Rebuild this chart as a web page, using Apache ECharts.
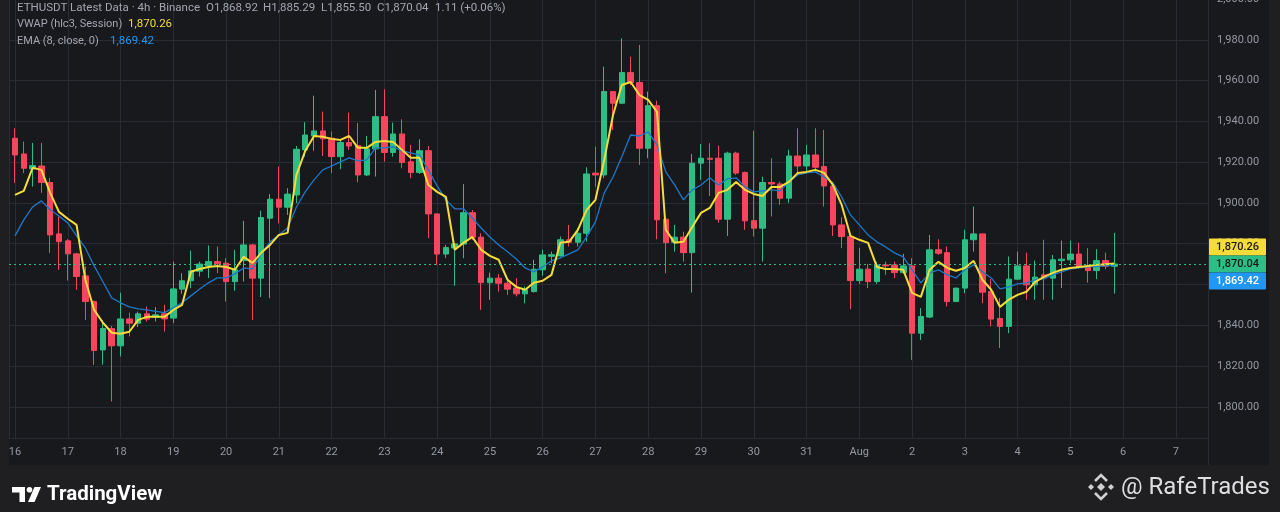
<!DOCTYPE html>
<html><head><meta charset="utf-8">
<script src="https://cdn.jsdelivr.net/npm/echarts@6.0.0/dist/echarts.min.js"></script>
<style>html,body{margin:0;padding:0;background:#1f1f21;}#c{width:1280px;height:512px;}</style>
</head><body><div id="c"></div>
<script>
// ---- data (4h candles, ETHUSDT, from Jul 16 00:00) ----
const opens  = [1931.7,1924.0,1916.7,1918.1,1910.0,1884.8,1881.4,1875.0,1864.2,1851.6,1827.9,1838.4,1829.9,1843.1,1841.0,1845.6,1844.0,1845.6,1843.5,1857.7,1861.8,1866.5,1869.1,1871.2,1870.4,1861.4,1871.7,1879.4,1863.1,1892.5,1901.8,1897.9,1903.9,1926.0,1932.8,1935.3,1931.7,1922.7,1929.6,1928.1,1913.7,1926.5,1942.3,1924.7,1933.8,1920.2,1914.9,1925.6,1894.6,1874.9,1877.9,1879.8,1895.2,1883.2,1860.9,1863.1,1860.6,1858.2,1855.4,1856.5,1867.2,1873.8,1874.0,1881.9,1880.7,1885.1,1914.6,1913.7,1954.6,1948.9,1963.9,1959.0,1926.8,1947.7,1892.0,1880.7,1883.2,1875.6,1919.5,1921.9,1921.9,1892.0,1924.4,1914.9,1891.3,1887.6,1910.0,1909.3,1902.3,1923.0,1918.1,1923.5,1917.8,1908.3,1889.2,1883.5,1861.9,1867.5,1861.4,1869.6,1869.6,1865.8,1869.1,1836.1,1844.0,1877.0,1875.6,1851.6,1858.2,1881.9,1884.8,1856.5,1843.3,1839.4,1862.6,1869.1,1859.8,1864.7,1863.1,1871.7,1872.1,1874.9,1868.8,1866.8,1871.7,1868.92];
const highs  = [1936.6,1930.1,1929.4,1929.4,1912.3,1893.3,1882.2,1875.5,1868.8,1852.1,1842.6,1839.7,1855.9,1846.2,1846.7,1849.2,1848.9,1850.0,1871.2,1865.5,1876.6,1871.2,1879.1,1878.6,1872.9,1877.0,1891.2,1879.8,1896.2,1904.3,1917.8,1907.2,1927.9,1939.6,1952.6,1944.8,1935.0,1930.9,1944.3,1939.1,1932.8,1955.4,1955.7,1939.4,1941.0,1928.4,1931.2,1927.9,1894.8,1879.4,1880.2,1909.2,1896.5,1885.1,1865.8,1865.2,1863.1,1863.1,1859.0,1872.1,1877.0,1876.1,1883.5,1889.2,1887.6,1917.5,1927.6,1966.8,1954.8,1980.7,1971.7,1977.5,1954.6,1950.1,1893.3,1889.2,1885.9,1924.0,1928.9,1929.3,1928.1,1925.1,1925.1,1915.4,1935.4,1912.9,1921.9,1910.4,1926.0,1936.6,1928.4,1936.6,1935.8,1910.4,1893.0,1883.8,1877.8,1870.1,1871.1,1871.2,1871.2,1875.0,1872.9,1848.4,1884.3,1882.2,1878.6,1858.4,1886.8,1898.2,1885.0,1862.6,1853.3,1873.7,1876.1,1875.6,1871.7,1881.9,1874.5,1881.5,1881.5,1880.5,1877.8,1877.3,1875.6,1885.29];
const lows   = [1909.8,1914.6,1908.0,1904.9,1875.5,1867.2,1861.9,1857.4,1842.6,1820.6,1820.6,1802.6,1824.7,1834.5,1839.1,1841.8,1841.8,1836.9,1841.0,1855.4,1858.2,1863.9,1863.1,1865.5,1851.6,1856.9,1861.4,1842.6,1853.8,1853.3,1890.0,1894.1,1899.9,1922.7,1925.6,1923.0,1914.6,1916.5,1926.0,1910.1,1913.2,1912.9,1920.2,1922.7,1917.0,1912.1,1914.2,1882.7,1869.6,1873.0,1859.3,1872.9,1881.9,1847.5,1852.5,1856.5,1854.9,1854.1,1850.8,1856.0,1864.2,1870.4,1873.7,1878.6,1878.6,1881.0,1908.0,1912.1,1935.8,1948.7,1957.8,1918.6,1921.9,1882.2,1865.5,1876.1,1871.2,1856.0,1911.3,1903.4,1890.3,1883.8,1913.7,1886.8,1883.5,1871.2,1893.3,1899.0,1900.1,1913.7,1915.3,1915.3,1898.2,1883.8,1877.8,1847.9,1860.3,1858.2,1860.3,1864.7,1863.1,1865.2,1823.0,1832.8,1843.5,1874.5,1849.2,1851.4,1855.7,1876.1,1850.8,1839.4,1828.8,1836.1,1862.3,1852.5,1852.5,1852.5,1852.5,1858.2,1870.4,1868.0,1860.9,1862.6,1867.5,1855.50];
const closes = [1923.5,1917.0,1918.3,1910.0,1884.3,1881.0,1875.0,1863.9,1851.6,1827.6,1838.4,1829.9,1843.1,1841.0,1845.6,1843.0,1845.1,1843.1,1857.8,1861.8,1866.7,1870.0,1871.2,1870.1,1861.4,1867.2,1879.4,1863.1,1892.8,1901.8,1897.9,1904.3,1926.3,1933.3,1935.3,1931.4,1922.7,1929.6,1927.9,1913.7,1926.5,1942.3,1924.7,1933.8,1919.8,1914.9,1925.6,1894.6,1874.9,1878.1,1879.9,1895.2,1883.2,1860.9,1863.1,1860.6,1857.7,1855.4,1857.4,1867.5,1874.5,1874.6,1881.9,1880.7,1885.1,1914.2,1913.7,1954.6,1948.9,1963.9,1959.0,1926.8,1947.7,1891.7,1880.5,1883.2,1875.6,1919.5,1921.9,1921.4,1892.0,1924.4,1914.6,1891.2,1887.6,1910.0,1909.3,1902.3,1923.0,1918.1,1923.5,1917.5,1908.3,1889.2,1883.5,1861.9,1867.5,1861.4,1869.6,1869.1,1865.8,1869.1,1836.1,1844.3,1877.0,1875.3,1851.6,1858.2,1881.9,1884.8,1856.2,1843.0,1839.4,1862.6,1869.1,1859.8,1863.6,1863.6,1872.1,1872.4,1874.9,1868.8,1866.8,1871.7,1868.93,1870.04];
const vwap   = [1903.9,1905.9,1917.2,1916.2,1904.9,1895.6,1892.2,1889.2,1862.3,1847.5,1841.2,1836.3,1835.8,1836.8,1842.6,1844.1,1844.1,1844.1,1847.5,1850.0,1866.2,1867.6,1868.6,1869.1,1868.6,1867.2,1873.5,1870.6,1875.5,1879.4,1884.3,1885.3,1913.7,1925.5,1932.8,1932.4,1931.4,1930.9,1932.8,1927.0,1927.0,1929.9,1930.4,1929.9,1926.0,1922.1,1922.1,1908.8,1905.4,1902.9,1877.0,1880.4,1883.3,1877.0,1874.0,1872.1,1862.3,1858.8,1857.4,1860.8,1861.8,1864.7,1880.4,1880.9,1886.8,1896.6,1901.5,1921.1,1943.1,1957.8,1959.3,1952.9,1950.5,1944.6,1886.8,1880.4,1880.9,1888.2,1895.1,1897.5,1904.9,1906.4,1910.3,1906.4,1904.4,1903.4,1907.8,1907.8,1910.3,1914.7,1915.2,1916.2,1914.7,1908.8,1899.0,1883.8,1881.9,1880.4,1868.6,1867.6,1867.6,1867.2,1855.9,1853.9,1867.2,1871.1,1868.1,1866.7,1868.1,1871.6,1862.3,1857.4,1849.0,1852.5,1854.9,1856.4,1861.3,1863.7,1865.7,1867.2,1868.1,1868.6,1869.1,1869.6,1869.9,1870.26];
const ema    = [1883.8,1891.7,1898.0,1901.0,1896.6,1893.6,1890.2,1883.8,1877.9,1869.1,1861.3,1853.4,1851.0,1849.0,1848.0,1847.5,1846.8,1846.2,1848.5,1851.0,1854.4,1857.8,1860.8,1863.2,1863.2,1865.2,1868.1,1867.6,1875.0,1880.9,1884.3,1887.7,1898.0,1905.4,1911.3,1916.2,1918.1,1920.1,1922.1,1920.6,1921.1,1927.0,1927.0,1927.5,1925.5,1924.5,1923.5,1916.2,1908.3,1901.5,1897.1,1897.1,1892.6,1887.7,1883.3,1879.4,1876.0,1872.5,1868.1,1866.2,1868.6,1871.6,1873.0,1875.0,1877.0,1883.3,1890.7,1904.9,1912.7,1922.6,1933.3,1932.8,1934.8,1928.4,1915.2,1908.8,1901.5,1906.4,1908.8,1912.3,1908.8,1911.8,1912.3,1907.8,1905.4,1905.9,1906.4,1905.9,1910.3,1913.7,1914.7,1915.2,1912.7,1909.8,1902.9,1894.1,1889.2,1884.3,1880.9,1878.4,1875.5,1873.5,1867.2,1860.8,1865.7,1867.2,1864.7,1863.2,1867.2,1869.6,1866.2,1863.2,1857.8,1858.8,1860.3,1860.8,1862.3,1862.7,1864.7,1866.2,1867.6,1868.1,1868.6,1868.9,1869.1,1869.42];
const dayLabels = ['16','17','18','19','20','21','22','23','24','25','26','27','28','29','30','31','Aug','2','3','4','5','6','7'];
const symbolTitle = 'ETHUSDT Latest Data · 4h · Binance';
const vwapTitle = 'VWAP (hlc3, Session)';
const emaTitle = 'EMA (8, close, 0)';

// ---- style ----
const BG = '#18191d', FRAME = '#1f1f21', GRID = '#2a2c33', AXT = '#9598a1', LEG = '#a3a6af';
const UP = '#2EBD85', DOWN = '#F6465D', YEL = '#F5DC3A', BLUE = '#2196F3', EMAC = '#1E78C8';
const FONT = 'Roboto, "Noto Sans", sans-serif';
const barsPerDay = 6;
const fmt = v => v.toLocaleString('en-US', {minimumFractionDigits: 2, maximumFractionDigits: 2});

const n = closes.length;
const candleData = closes.map((c, i) => [i, opens[i], c, lows[i], highs[i]]);
const vwapData = vwap.map((v, i) => [i, v]);
const emaData = ema.map((v, i) => [i, v]);
const last = n - 1;
const chg = closes[last] - closes[last - 1];
const pct = chg / closes[last - 1] * 100;

const chart = echarts.init(document.getElementById('c'), null, {renderer: 'canvas'});

const rich = {
  g: {color: LEG, fontSize: 11.5, fontFamily: FONT},
  v: {color: UP, fontSize: 11.5, fontFamily: FONT}
};
function rtxt(x, y, s) {
  return {type: 'text', x: x, y: y, silent: true, z: 50,
    style: {text: s, rich: rich, fill: LEG, font: '11.5px ' + FONT, verticalAlign: 'middle'}};
}
function txt(x, y, s, color, size, weight) {
  return {type: 'text', x: x, y: y, silent: true, z: 50,
    style: {text: s, fill: color, font: (weight || 'normal') + ' ' + (size || 11) + 'px ' + FONT, verticalAlign: 'middle'}};
}

chart.setOption({
  animation: false,
  backgroundColor: BG,
  grid: {left: 9, right: 72, top: -1, bottom: 74, outerBoundsMode: 'none', containLabel: false},
  xAxis: {
    type: 'value', min: -0.682, max: 135.65,
    minInterval: barsPerDay, maxInterval: barsPerDay, splitNumber: 22,
    axisLine: {show: true, lineStyle: {color: GRID}},
    axisTick: {show: false},
    axisLabel: {color: AXT, fontSize: 11, fontFamily: FONT, margin: 9,
      formatter: v => { const d = v / barsPerDay; return Math.abs(d - Math.round(d)) < 1e-6 ? (dayLabels[Math.round(d)] || '') : ''; }},
    splitLine: {show: true, lineStyle: {color: GRID, width: 1}}
  },
  yAxis: {
    type: 'value', position: 'right', min: 1784.69, max: 2000, scale: true,
    minInterval: 20, maxInterval: 20,
    axisLine: {show: true, lineStyle: {color: GRID}},
    axisTick: {show: false},
    axisLabel: {color: AXT, fontSize: 11, fontFamily: FONT, margin: 9,
      formatter: v => Math.abs(v / 20 - Math.round(v / 20)) < 1e-6 ? fmt(v) : ''},
    splitLine: {show: true, lineStyle: {color: GRID, width: 1}}
  },
  series: [
    {type: 'candlestick', data: candleData, barWidth: 6, z: 2,
      encode: {x: 0, y: [1, 2, 3, 4]},
      itemStyle: {color: UP, color0: DOWN, borderColor: UP, borderColor0: DOWN, borderWidth: 1},
      markLine: {silent: true, symbol: 'none', label: {show: false},
        lineStyle: {color: UP, type: [2, 3], width: 1},
        data: [{yAxis: closes[last]}]}
    },
    {type: 'line', data: emaData, showSymbol: false, z: 3, lineStyle: {color: EMAC, width: 1.3}},
    {type: 'line', data: vwapData, showSymbol: false, z: 4, lineStyle: {color: YEL, width: 2}}
  ]
});

const yc = chart.convertToPixel({yAxisIndex: 0}, closes[last]);
const tagX = 1209, tagW = 57, tagH = 17;
function tag(cy, fill, textColor, s) {
  return [
    {type: 'rect', shape: {x: tagX, y: cy - tagH / 2, width: tagW, height: tagH, r: 1}, style: {fill: fill}, z: 60, silent: true},
    {type: 'text', x: tagX + tagW / 2, y: cy, z: 61, silent: true,
      style: {text: s, fill: textColor, font: '500 11px ' + FONT, align: 'center', verticalAlign: 'middle'}}
  ];
}

const WM = '#d0d0d0';
const g = [
  {type: 'rect', shape: {x: 0, y: 0, width: 9, height: 512}, style: {fill: FRAME}, z: 40, silent: true},
  {type: 'rect', shape: {x: 1269, y: 0, width: 11, height: 512}, style: {fill: FRAME}, z: 40, silent: true},
  {type: 'rect', shape: {x: 0, y: 465, width: 1280, height: 47}, style: {fill: FRAME}, z: 40, silent: true},
  {type: 'line', shape: {x1: 1208.5, y1: 438, x2: 1208.5, y2: 465}, style: {stroke: GRID, lineWidth: 1}, z: 40, silent: true},
  // legend line 1
  rtxt(17, 8, '{g|' + symbolTitle + '}'),
  rtxt(206, 8, '{g|O}{v|' + fmt(opens[last]) + '}'),
  rtxt(263, 8, '{g|H}{v|' + fmt(highs[last]) + '}'),
  rtxt(321, 8, '{g|L}{v|' + fmt(lows[last]) + '}'),
  rtxt(377, 8, '{g|C}{v|' + fmt(closes[last]) + '}'),
  rtxt(435, 8, '{v|' + chg.toFixed(2) + ' (' + (pct >= 0 ? '+' : '') + pct.toFixed(2) + '%)}'),
  // legend line 2, 3
  txt(17, 24, vwapTitle, LEG, 11), txt(128, 24, fmt(vwap[last]), YEL, 11.5),
  txt(17, 41, emaTitle, LEG, 11), txt(110, 41, fmt(ema[last]), BLUE, 11.5),
  // TradingView logo
  {type: 'polygon', shape: {points: [[12, 487], [25, 487], [25, 502], [19.5, 502], [19.5, 492.5], [12, 492.5]]}, style: {fill: '#ffffff'}, z: 50, silent: true},
  {type: 'circle', shape: {cx: 29.5, cy: 489.8, r: 2.8}, style: {fill: '#ffffff'}, z: 50, silent: true},
  {type: 'polygon', shape: {points: [[34.5, 487], [41, 487], [34.5, 502], [28, 502]]}, style: {fill: '#ffffff'}, z: 50, silent: true},
  txt(47, 494.5, 'TradingView', '#ffffff', 20.5, 'bold'),
  // watermark
  {type: 'polyline', shape: {points: [[1095, 481], [1101, 475], [1107, 481]]}, style: {stroke: WM, lineWidth: 2.6}, z: 50, silent: true},
  {type: 'polyline', shape: {points: [[1095, 493], [1101, 499], [1107, 493]]}, style: {stroke: WM, lineWidth: 2.6}, z: 50, silent: true},
  {type: 'polygon', shape: {points: [[1091, 484], [1094, 487], [1091, 490], [1088, 487]]}, style: {fill: WM}, z: 50, silent: true},
  {type: 'polygon', shape: {points: [[1111, 484], [1114, 487], [1111, 490], [1108, 487]]}, style: {fill: WM}, z: 50, silent: true},
  {type: 'polygon', shape: {points: [[1101, 483], [1105, 487], [1101, 491], [1097, 487]]}, style: {fill: WM}, z: 50, silent: true},
  txt(1121, 488, '@ RafeTrades', '#dedede', 24)
];
chart.setOption({graphic: g.concat(
  tag(yc - tagH, YEL, '#1a1a1a', fmt(vwap[last])),
  tag(yc, UP, '#0f1a14', fmt(closes[last])),
  tag(yc + tagH, BLUE, '#ffffff', fmt(ema[last]))
)});
</script>
</body></html>
